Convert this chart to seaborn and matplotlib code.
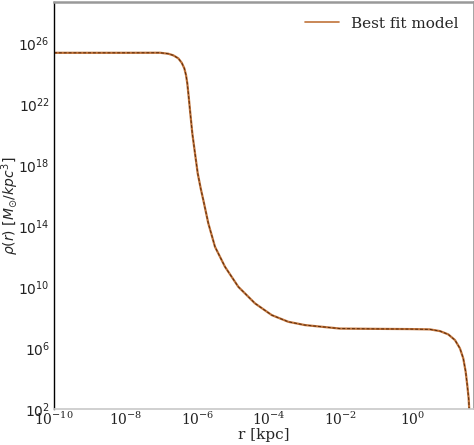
import numpy as np
import pandas as pd
import matplotlib
matplotlib.use("Agg")
import matplotlib.pyplot as plt
import seaborn as sns

# values (log10 r [kpc], log10 rho)
log_r = [-10.0, -8.0, -7.042, -6.810, -6.670, -6.531, -6.436, -6.363, -6.316,
         -6.280, -6.241, -6.196, -6.140, -6.065, -5.989, -5.906, -5.833, -5.693,
         -5.507, -5.228, -4.856, -4.390, -3.924, -3.461, -2.995, -2.716, -2.02,
         -1.0, -0.064, 0.494, 0.773, 1.005, 1.192, 1.331, 1.424, 1.491, 1.535,
         1.574, 1.591, 1.60]
log_rho = [25.38, 25.38, 25.384, 25.318, 25.213, 25.016, 24.728, 24.361, 23.921,
           23.377, 22.498, 21.410, 20.098, 18.787, 17.475, 16.492, 15.725, 14.197,
           12.662, 11.351, 10.039, 8.951, 8.184, 7.744, 7.528, 7.462, 7.30,
           7.28, 7.266, 7.246, 7.134, 6.918, 6.544, 6.0, 5.344, 4.466, 3.593,
           2.721, 1.954, 1.0]
series_label = "Best fit model"
x_ticks = [1e-10, 1e-8, 1e-6, 1e-4, 1e-2, 1e0]
y_ticks = [1e2, 1e6, 1e10, 1e14, 1e18, 1e22, 1e26]

df = pd.DataFrame({"r": 10.0 ** np.array(log_r), "rho": 10.0 ** np.array(log_rho)})

sns.set_theme(style="white")
plt.rcParams["font.family"] = ["DejaVu Sans"]
plt.rcParams["mathtext.fontset"] = "dejavusans"

fig = plt.figure(figsize=(4.74, 4.45), dpi=100)
ax = fig.add_axes([0.114, 0.080, 0.885, 0.9165])

sns.lineplot(data=df, x="r", y="rho", ax=ax, color="#c0733a", lw=1.6,
             sort=False, estimator=None, label=series_label)
ax.plot(df["r"], df["rho"], color="#5a2a0a", lw=0.7, ls=(0, (3, 2)))

ax.set_xscale("log")
ax.set_yscale("log")
ax.set_xlim(1e-10, 10 ** 1.71)
ax.set_ylim(1e2, 10 ** 28.74)
ax.set_xticks(x_ticks)
ax.set_yticks(y_ticks)
ax.minorticks_off()

ax.tick_params(axis="both", direction="in", length=4, width=0.8, colors="#222222",
               labelsize=10, pad=3)
for lab in ax.get_xticklabels():
    lab.set_fontfamily("DejaVu Serif")
ax.tick_params(axis="x", pad=1)

ax.set_xlabel("r [kpc]", fontfamily="DejaVu Serif", fontsize=11, labelpad=0)
ax.set_ylabel(r"$\rho(r)$ [$M_{\odot}/kpc^3$]", fontsize=10)
ax.yaxis.set_label_coords(-0.079, 0.5)

ax.spines["left"].set_color("black")
ax.spines["left"].set_linewidth(1.0)
ax.spines["bottom"].set_color("#c8c8c8")
ax.spines["bottom"].set_linewidth(1.2)
ax.spines["top"].set_color("#999999")
ax.spines["top"].set_linewidth(1.8)
ax.spines["right"].set_color("#999999")

leg = ax.legend(loc="upper right", frameon=False, prop={"family": "DejaVu Serif", "size": 11},
                handlelength=2.2, borderaxespad=0.6)
for h in leg.get_lines():
    h.set_linewidth(1.2)

fig.savefig("out.png", dpi=100)
